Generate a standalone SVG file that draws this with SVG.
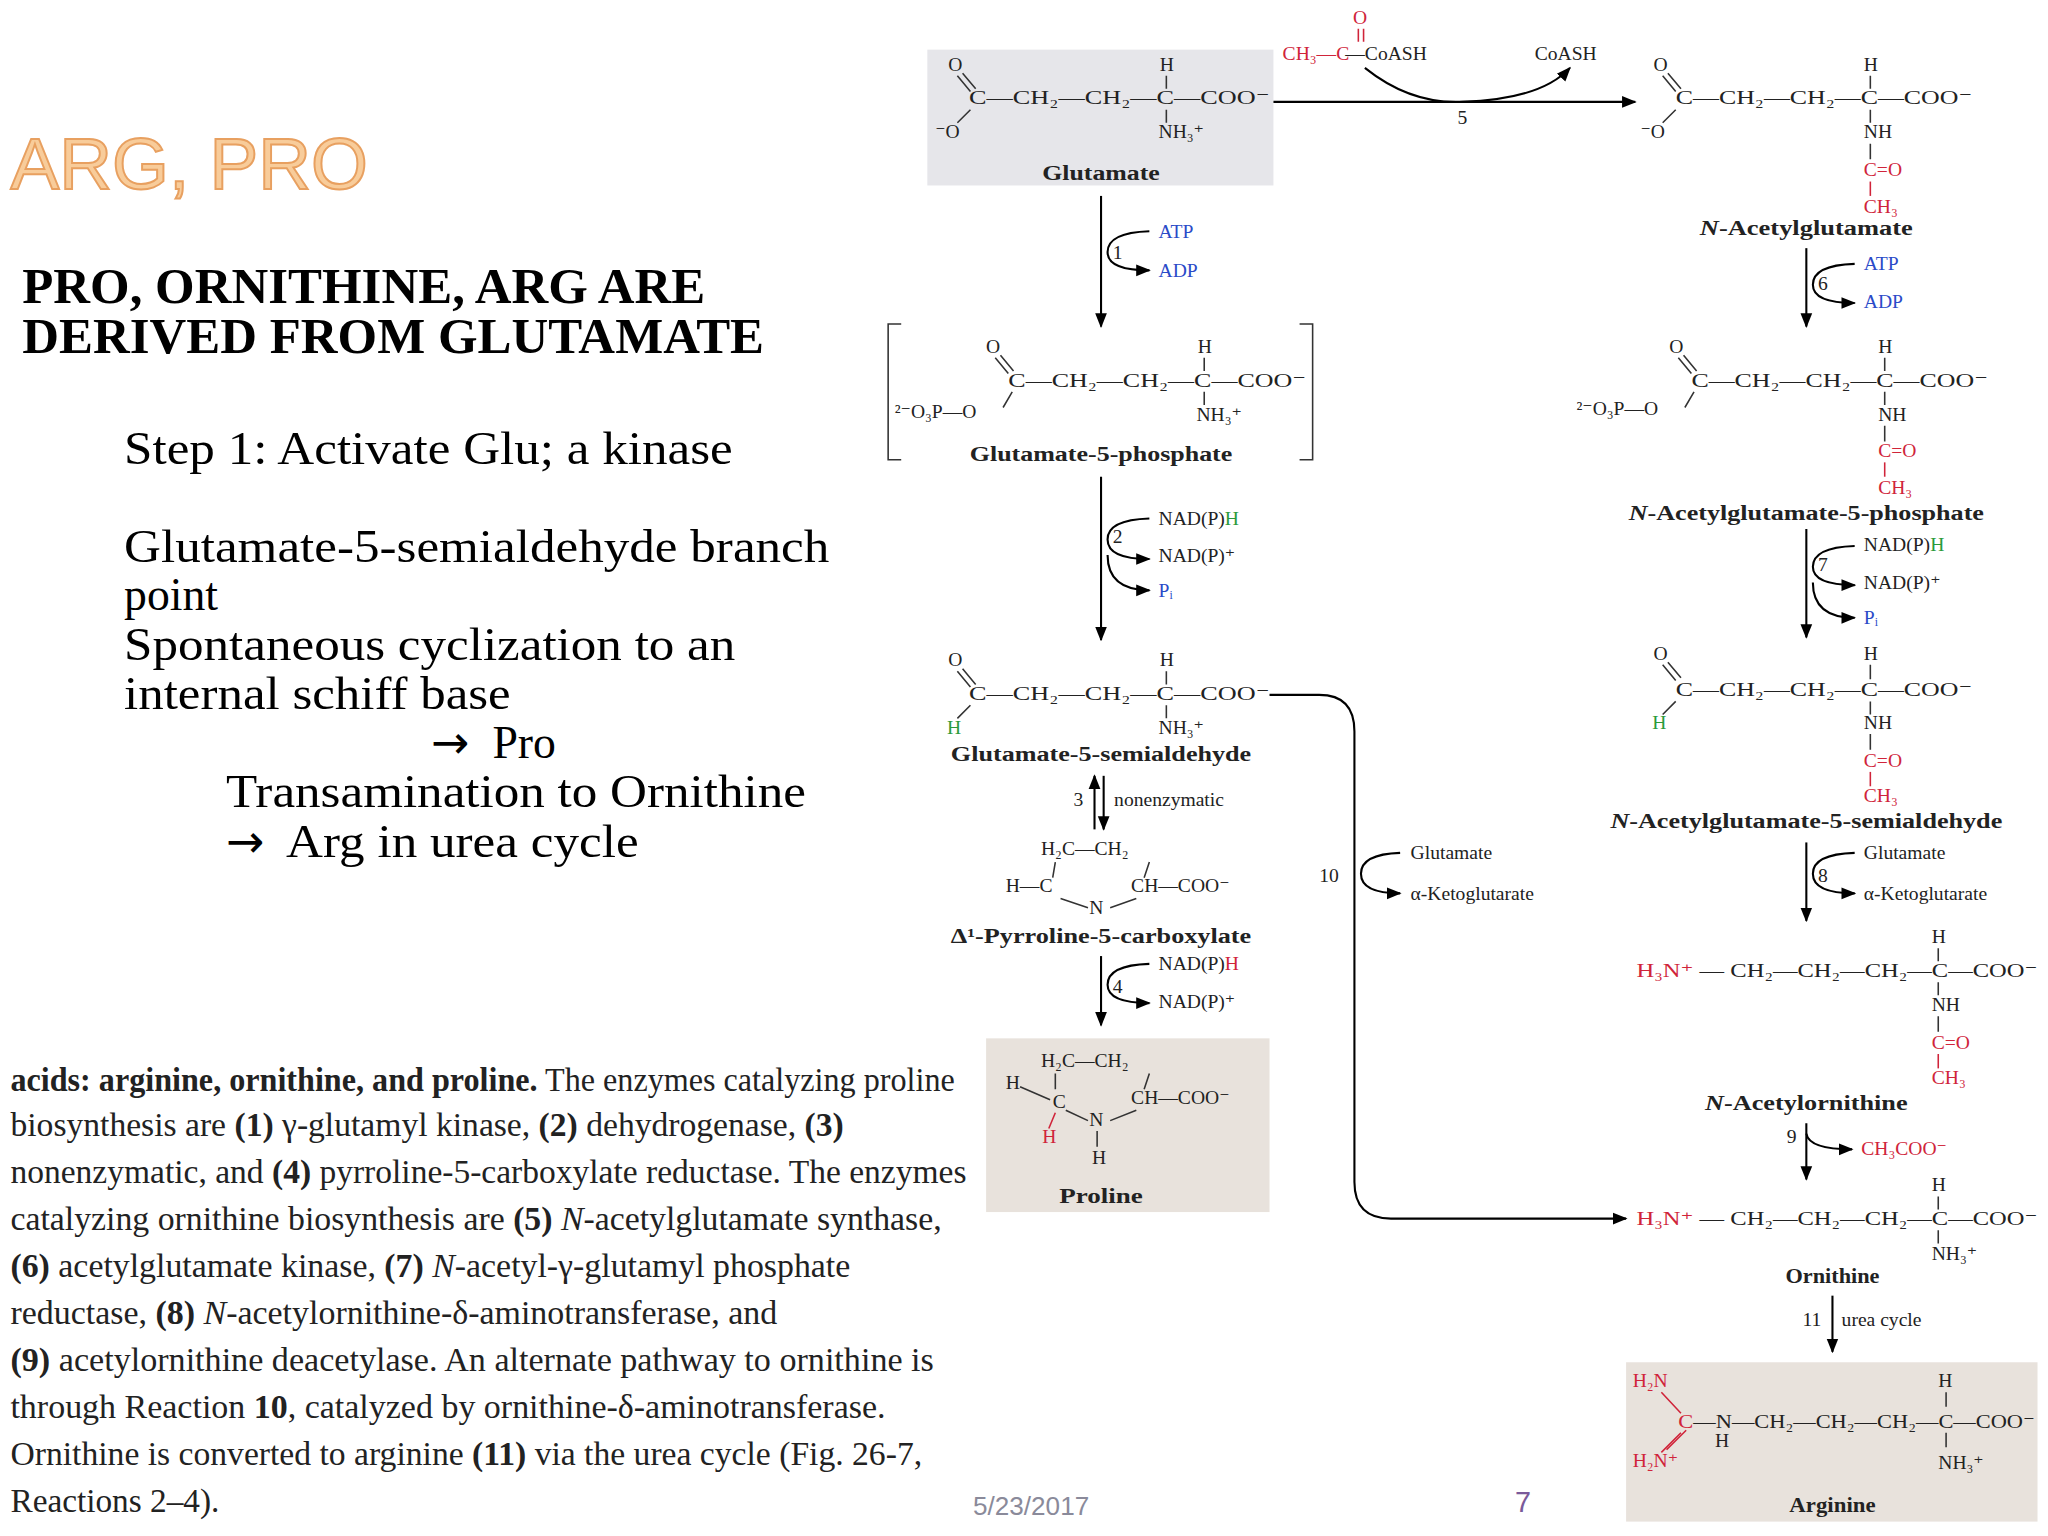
<svg xmlns="http://www.w3.org/2000/svg" width="2048" height="1536" viewBox="0 0 2048 1536">
<defs>
<marker id="ah" viewBox="0 0 10 10" refX="9" refY="5" markerWidth="7" markerHeight="7" orient="auto"><path d="M0,1 L10,5 L0,9 z" fill="#000"/></marker>
<style>
text{font-family:"Liberation Serif","DejaVu Serif",serif}
.c{font-size:15px;fill:#222}
.b{font-size:16px;font-weight:bold;fill:#222;text-anchor:middle}
.r{fill:#d0243a}
.g{fill:#2a9a3a}
.bl{fill:#2a4ac8}
.h{font-size:38px;font-weight:bold;fill:#000}
.s{font-size:35px;fill:#000}
.cap{font-size:26px;fill:#222}
.ln{stroke:#000;stroke-width:1.6;fill:none}
.bd{stroke:#333;stroke-width:1.2;fill:none}
.bdr{stroke:#d0243a;stroke-width:1.2;fill:none}
</style>
</defs>
<rect width="2048" height="1536" fill="#fff"/>
<g transform="scale(1.3061)">
<g id="text">
<text x="8" y="145" font-size="56" fill="#f8cc9a" stroke="#e8a060" stroke-width="1.5" style="font-family:'Liberation Sans',sans-serif">ARG, PRO</text>
<text class="h" x="17" y="232" textLength="523" lengthAdjust="spacingAndGlyphs">PRO, ORNITHINE, ARG ARE</text>
<text class="h" x="17" y="270" textLength="568" lengthAdjust="spacingAndGlyphs">DERIVED FROM GLUTAMATE</text>
<text class="s" x="95" y="355" textLength="466" lengthAdjust="spacingAndGlyphs">Step 1: Activate Glu; a kinase</text>
<text class="s" x="95" y="430" textLength="540" lengthAdjust="spacingAndGlyphs">Glutamate-5-semialdehyde branch</text>
<text class="s" x="95" y="467">point</text>
<text class="s" x="95" y="505" textLength="468" lengthAdjust="spacingAndGlyphs">Spontaneous cyclization to an</text>
<text class="s" x="95" y="543" textLength="296" lengthAdjust="spacingAndGlyphs">internal schiff base</text>
<text class="s" x="330" y="580" style="font-family:'DejaVu Sans',sans-serif" font-size="30">→</text><text class="s" x="377" y="580">Pro</text>
<text class="s" x="173" y="618" textLength="444" lengthAdjust="spacingAndGlyphs">Transamination to Ornithine</text>
<text class="s" x="173" y="656" style="font-family:'DejaVu Sans',sans-serif" font-size="30">→</text><text class="s" x="219" y="656" textLength="270" lengthAdjust="spacingAndGlyphs">Arg in urea cycle</text>
<text class="cap" x="8" y="835" textLength="723" lengthAdjust="spacingAndGlyphs"><tspan font-weight="bold">acids: arginine, ornithine, and proline.</tspan> The enzymes catalyzing proline</text>
<text class="cap" x="8" y="870" textLength="638" lengthAdjust="spacingAndGlyphs">biosynthesis are <tspan font-weight="bold">(1)</tspan> γ-glutamyl kinase, <tspan font-weight="bold">(2)</tspan> dehydrogenase, <tspan font-weight="bold">(3)</tspan></text>
<text class="cap" x="8" y="906" textLength="732" lengthAdjust="spacingAndGlyphs">nonenzymatic, and <tspan font-weight="bold">(4)</tspan> pyrroline-5-carboxylate reductase. The enzymes</text>
<text class="cap" x="8" y="942" textLength="713" lengthAdjust="spacingAndGlyphs">catalyzing ornithine biosynthesis are <tspan font-weight="bold">(5)</tspan> <tspan font-style="italic">N</tspan>-acetylglutamate synthase,</text>
<text class="cap" x="8" y="978" textLength="643" lengthAdjust="spacingAndGlyphs"><tspan font-weight="bold">(6)</tspan> acetylglutamate kinase, <tspan font-weight="bold">(7)</tspan> <tspan font-style="italic">N</tspan>-acetyl-γ-glutamyl phosphate</text>
<text class="cap" x="8" y="1014" textLength="587" lengthAdjust="spacingAndGlyphs">reductase, <tspan font-weight="bold">(8)</tspan> <tspan font-style="italic">N</tspan>-acetylornithine-δ-aminotransferase, and</text>
<text class="cap" x="8" y="1050" textLength="707" lengthAdjust="spacingAndGlyphs"><tspan font-weight="bold">(9)</tspan> acetylornithine deacetylase. An alternate pathway to ornithine is</text>
<text class="cap" x="8" y="1086" textLength="670" lengthAdjust="spacingAndGlyphs">through Reaction <tspan font-weight="bold">10</tspan>, catalyzed by ornithine-δ-aminotransferase.</text>
<text class="cap" x="8" y="1122" textLength="698" lengthAdjust="spacingAndGlyphs">Ornithine is converted to arginine <tspan font-weight="bold">(11)</tspan> via the urea cycle (Fig. 26-7,</text>
<text class="cap" x="8" y="1158" textLength="160" lengthAdjust="spacingAndGlyphs">Reactions 2–4).</text>
<text x="745" y="1160" font-size="20" fill="#8a8a9a" style="font-family:'Liberation Sans',sans-serif">5/23/2017</text>
<text x="1160" y="1158" font-size="22" fill="#7a5a9a" style="font-family:'Liberation Sans',sans-serif">7</text>
</g>

<g id="glutamate">
<rect x="710" y="38" width="265" height="104" fill="#e6e6ea"/>
<text class="c" x="726" y="54">O</text><text class="c" x="742" y="80" textLength="230" lengthAdjust="spacingAndGlyphs">C—CH₂—CH₂—C—COO⁻</text>
<text class="c" x="888" y="54">H</text><text class="c" x="887" y="106">NH₃⁺</text><text class="c" x="716" y="106">⁻O</text>
<path class="bd" d="M893,58 V68 M893,84 V94 M733,58 L743,70 M737,56 L747,68 M733,94 L743,84"/>
<text class="b" x="843" y="138" textLength="90" lengthAdjust="spacingAndGlyphs">Glutamate</text>
</g>
<g id="glu5p">
<path class="bd" d="M690,248 H680 V352 H690 M995,248 H1005 V352 H995"/>
<text class="c" x="755" y="270">O</text><text class="c" x="772" y="296" textLength="228" lengthAdjust="spacingAndGlyphs">C—CH₂—CH₂—C—COO⁻</text>
<text class="c" x="917" y="270">H</text><text class="c" x="916" y="322">NH₃⁺</text><text class="c" x="685" y="320">²⁻O₃P—O</text>
<path class="bd" d="M922,274 V284 M922,300 V310 M762,274 L772,286 M766,272 L776,284 M768,312 L775,300"/>
<text class="b" x="843" y="353" textLength="201" lengthAdjust="spacingAndGlyphs">Glutamate-5-phosphate</text>
</g>
<g id="g5s">
<text class="c" x="726" y="510">O</text><text class="c" x="742" y="536" textLength="230" lengthAdjust="spacingAndGlyphs">C—CH₂—CH₂—C—COO⁻</text>
<text class="c" x="888" y="510">H</text><text class="c" x="887" y="562">NH₃⁺</text><text class="c g" x="725" y="562">H</text>
<path class="bd" d="M893,514 V524 M893,540 V550 M733,514 L743,526 M737,512 L747,524 M733,550 L743,540"/>
<text class="b" x="843" y="583" textLength="230" lengthAdjust="spacingAndGlyphs">Glutamate-5-semialdehyde</text>
</g>
<g id="p5c">
<text class="c" x="797" y="655">H₂C—CH₂</text><text class="c" x="770" y="683">H—C</text><text class="c" x="866" y="683">CH—COO⁻</text><text class="c" x="834" y="700">N</text>
<path class="bd" d="M808,660 L806,672 M880,660 L876,672 M812,688 L833,695 M850,695 L870,688"/>
<text class="b" x="843" y="722" textLength="230" lengthAdjust="spacingAndGlyphs">Δ¹-Pyrroline-5-carboxylate</text>
</g>
<g id="proline">
<rect x="755" y="795" width="217" height="133" fill="#e8e2dc"/>
<text class="c" x="797" y="817">H₂C—CH₂</text><text class="c" x="770" y="834">H</text><text class="c" x="806" y="848">C</text><text class="c" x="866" y="845">CH—COO⁻</text><text class="c" x="834" y="862">N</text>
<text class="c r" x="798" y="875">H</text><text class="c" x="836" y="891">H</text>
<path class="bd" d="M808,822 L808,834 M880,822 L876,834 M816,850 L833,858 M850,858 L870,850 M840,866 V878 M781,832 L804,842"/>
<path class="bdr" d="M808,852 L803,864"/>
<text class="b" x="843" y="921" textLength="64" lengthAdjust="spacingAndGlyphs">Proline</text>
</g>
<g id="nag">
<text class="c r" x="982" y="46">CH₃—C</text><text class="c" x="1030" y="46">—CoASH</text><text class="c r" x="1036" y="18">O</text><path d="M1040,22 V32 M1044,22 V32" stroke="#d0243a" stroke-width="1.2"/>
<text class="c" x="1175" y="46">CoASH</text>
<text class="c" x="1266" y="54">O</text><text class="c" x="1283" y="80" textLength="227" lengthAdjust="spacingAndGlyphs">C—CH₂—CH₂—C—COO⁻</text>
<text class="c" x="1427" y="54">H</text><text class="c" x="1427" y="106">NH</text><text class="c r" x="1427" y="135">C=O</text><text class="c r" x="1427" y="163">CH₃</text><text class="c" x="1256" y="106">⁻O</text>
<path class="bd" d="M1432,58 V68 M1432,84 V94 M1432,110 V122 M1273,58 L1283,70 M1277,56 L1287,68 M1273,94 L1283,84"/><path class="bdr" d="M1432,139 V150"/>
<text class="b" x="1383" y="180" textLength="163" lengthAdjust="spacingAndGlyphs"><tspan font-style="italic">N</tspan>-Acetylglutamate</text>
</g>
<g id="nag5p">
<text class="c" x="1278" y="270">O</text><text class="c" x="1295" y="296" textLength="227" lengthAdjust="spacingAndGlyphs">C—CH₂—CH₂—C—COO⁻</text>
<text class="c" x="1438" y="270">H</text><text class="c" x="1438" y="322">NH</text><text class="c r" x="1438" y="350">C=O</text><text class="c r" x="1438" y="378">CH₃</text><text class="c" x="1207" y="318">²⁻O₃P—O</text>
<path class="bd" d="M1443,274 V284 M1443,300 V310 M1443,326 V338 M1285,274 L1295,286 M1289,272 L1299,284 M1290,312 L1297,300"/><path class="bdr" d="M1443,354 V365"/>
<text class="b" x="1383" y="398" textLength="272" lengthAdjust="spacingAndGlyphs"><tspan font-style="italic">N</tspan>-Acetylglutamate-5-phosphate</text>
</g>
<g id="nag5s">
<text class="c" x="1266" y="505">O</text><text class="c" x="1283" y="533" textLength="227" lengthAdjust="spacingAndGlyphs">C—CH₂—CH₂—C—COO⁻</text>
<text class="c" x="1427" y="505">H</text><text class="c" x="1427" y="558">NH</text><text class="c r" x="1427" y="587">C=O</text><text class="c r" x="1427" y="614">CH₃</text><text class="c g" x="1265" y="558">H</text>
<path class="bd" d="M1432,509 V520 M1432,537 V547 M1432,562 V574 M1273,509 L1283,521 M1277,507 L1287,519 M1273,547 L1283,537"/><path class="bdr" d="M1432,591 V602"/>
<text class="b" x="1383" y="634" textLength="300" lengthAdjust="spacingAndGlyphs"><tspan font-style="italic">N</tspan>-Acetylglutamate-5-semialdehyde</text>
</g>
<g id="naorn">
<text class="c" x="1253" y="748" textLength="307" lengthAdjust="spacingAndGlyphs"><tspan class="r">H₃N⁺</tspan> — CH₂—CH₂—CH₂—C—COO⁻</text>
<text class="c" x="1479" y="722">H</text><text class="c" x="1479" y="774">NH</text><text class="c r" x="1479" y="803">C=O</text><text class="c r" x="1479" y="830">CH₃</text>
<path class="bd" d="M1484,726 V736 M1484,752 V762 M1484,778 V790"/><path class="bdr" d="M1484,807 V818"/>
<text class="b" x="1383" y="850" textLength="155" lengthAdjust="spacingAndGlyphs"><tspan font-style="italic">N</tspan>-Acetylornithine</text>
</g>
<g id="ornithine">
<text class="c" x="1253" y="938" textLength="307" lengthAdjust="spacingAndGlyphs"><tspan class="r">H₃N⁺</tspan> — CH₂—CH₂—CH₂—C—COO⁻</text>
<text class="c" x="1479" y="912">H</text><text class="c" x="1479" y="965">NH₃⁺</text>
<path class="bd" d="M1484,916 V926 M1484,942 V952"/>
<text class="b" x="1403" y="982" textLength="72" lengthAdjust="spacingAndGlyphs">Ornithine</text>
</g>
<g id="arginine">
<rect x="1245" y="1043" width="315" height="122" fill="#e8e2dc"/>
<text class="c r" x="1250" y="1062">H₂N</text><text class="c r" x="1250" y="1123">H₂N⁺</text>
<text class="c" x="1285" y="1093" textLength="273" lengthAdjust="spacingAndGlyphs"><tspan class="r">C</tspan>—N—CH₂—CH₂—CH₂—C—COO⁻</text>
<text class="c" x="1313" y="1108">H</text><text class="c" x="1484" y="1062">H</text><text class="c" x="1484" y="1125">NH₃⁺</text>
<path class="bdr" d="M1272,1066 L1287,1082 M1272,1112 L1287,1097 M1276,1110 L1291,1095"/>
<path class="bd" d="M1490,1066 V1077 M1490,1097 V1108"/>
<text class="b" x="1403" y="1158" textLength="66" lengthAdjust="spacingAndGlyphs">Arginine</text>
</g>

<g id="connectors">
<path class="ln" d="M975,78 H1252" marker-end="url(#ah)"/>
<path class="ln" d="M1045,52 Q1080,80 1120,78 Q1180,76 1202,52" marker-end="url(#ah)"/>
<text class="c" x="1116" y="95">5</text>
<path class="ln" d="M843,150 V250" marker-end="url(#ah)"/>
<path class="ln" d="M880,177 Q848,178 848,193 Q848,207 880,207" marker-end="url(#ah)"/>
<text class="c" x="852" y="198">1</text><text class="c bl" x="887" y="182">ATP</text><text class="c bl" x="887" y="212">ADP</text>
<path class="ln" d="M843,365 V490" marker-end="url(#ah)"/>
<path class="ln" d="M880,397 Q848,398 848,413 Q848,428 880,428" marker-end="url(#ah)"/>
<path class="ln" d="M848,425 Q848,452 880,452" marker-end="url(#ah)"/>
<text class="c" x="852" y="416">2</text><text class="c" x="887" y="402">NAD(P)<tspan class="g">H</tspan></text><text class="c" x="887" y="430">NAD(P)⁺</text><text class="c bl" x="887" y="457">Pᵢ</text>
<path class="ln" d="M838,635 V594" marker-end="url(#ah)"/><path class="ln" d="M845,594 V635" marker-end="url(#ah)"/>
<text class="c" x="822" y="617">3</text><text class="c" x="853" y="617" font-size="14">nonenzymatic</text>
<path class="ln" d="M843,732 V785" marker-end="url(#ah)"/>
<path class="ln" d="M880,738 Q848,739 848,754 Q848,768 880,768" marker-end="url(#ah)"/>
<text class="c" x="852" y="760">4</text><text class="c" x="887" y="743">NAD(P)<tspan class="r">H</tspan></text><text class="c" x="887" y="772">NAD(P)⁺</text>
<path class="ln" d="M972,532 H1010 Q1037,532 1037,560 V905 Q1037,933 1065,933 H1245" marker-end="url(#ah)"/>
<path class="ln" d="M1072,653 Q1042,654 1042,669 Q1042,684 1072,684" marker-end="url(#ah)"/>
<text class="c" x="1010" y="675">10</text><text class="c" x="1080" y="658">Glutamate</text><text class="c" x="1080" y="689">α-Ketoglutarate</text>
<path class="ln" d="M1383,190 V250" marker-end="url(#ah)"/>
<path class="ln" d="M1420,202 Q1388,203 1388,218 Q1388,232 1420,232" marker-end="url(#ah)"/>
<text class="c" x="1392" y="222">6</text><text class="c bl" x="1427" y="207">ATP</text><text class="c bl" x="1427" y="236">ADP</text>
<path class="ln" d="M1383,405 V488" marker-end="url(#ah)"/>
<path class="ln" d="M1420,418 Q1388,419 1388,434 Q1388,448 1420,448" marker-end="url(#ah)"/>
<path class="ln" d="M1388,446 Q1388,473 1420,473" marker-end="url(#ah)"/>
<text class="c" x="1392" y="437">7</text><text class="c" x="1427" y="422">NAD(P)<tspan class="g">H</tspan></text><text class="c" x="1427" y="451">NAD(P)⁺</text><text class="c bl" x="1427" y="478">Pᵢ</text>
<path class="ln" d="M1383,645 V705" marker-end="url(#ah)"/>
<path class="ln" d="M1420,653 Q1388,654 1388,669 Q1388,684 1420,684" marker-end="url(#ah)"/>
<text class="c" x="1392" y="675">8</text><text class="c" x="1427" y="658">Glutamate</text><text class="c" x="1427" y="689">α-Ketoglutarate</text>
<path class="ln" d="M1383,860 V903" marker-end="url(#ah)"/>
<path class="ln" d="M1383,868 Q1385,880 1418,880" marker-end="url(#ah)"/>
<text class="c" x="1368" y="875">9</text><text class="c r" x="1425" y="884">CH₃COO⁻</text>
<path class="ln" d="M1403,992 V1035" marker-end="url(#ah)"/>
<text class="c" x="1380" y="1015">11</text><text class="c" x="1410" y="1015" font-size="14">urea cycle</text>
</g>
</g>
</svg>
